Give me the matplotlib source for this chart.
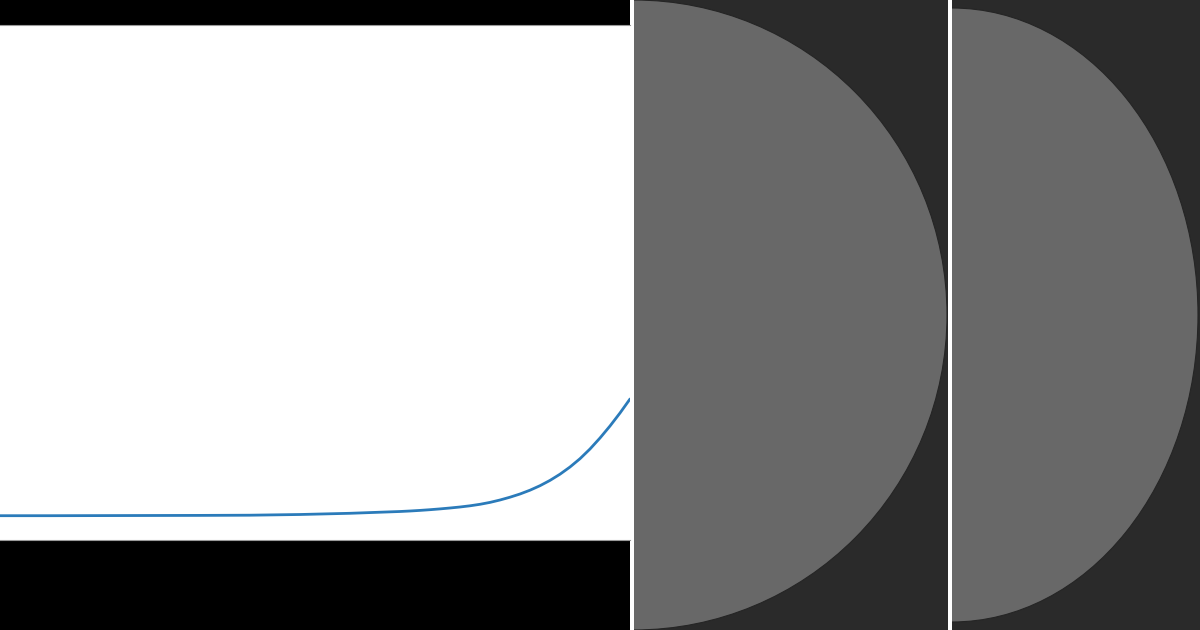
import matplotlib
matplotlib.use("Agg")
import matplotlib.pyplot as plt
from matplotlib.patches import Ellipse

# Curve (x position, value)
curve_x = [0, 50, 100, 150, 200, 250, 300, 350, 400, 410, 420, 430, 440,
           450, 460, 470, 480, 490, 500, 510, 520, 530, 540, 550, 560, 570,
           580, 590, 600, 610, 620, 630]
curve_y = [24.3, 24.3, 24.4, 24.5, 24.6, 24.8, 25.5, 26.7, 28.5, 29.0, 29.6,
           30.3, 31.1, 32.0, 33.0, 34.2, 35.7, 37.6, 40.0, 42.8, 46.0, 49.8,
           54.3, 59.6, 65.8, 73.0, 81.3, 91.0, 102.0, 114.0, 127.0, 141.0]

# Discs in the two right panels: (centre x, centre y, half width, half height)
disc_mid = [0, 315, 313, 315]
disc_right = [0, 315, 246, 307]

W, H = 1200, 630
fig = plt.figure(figsize=(12, 6.3), dpi=100, facecolor="white")

# left panel: black background with white plot area
bg = fig.add_axes([0, 0, 630 / W, 1])
bg.set_facecolor("black")
bg.set_xticks([]); bg.set_yticks([])
for s in bg.spines.values():
    s.set_visible(False)

ax = fig.add_axes([0, 90 / H, 630 / W, 515 / H])
ax.set_facecolor("white")
ax.plot(curve_x, curve_y, color="#2b7bba", lw=2.0, solid_capstyle="round",
        solid_joinstyle="round")
ax.set_xlim(0, 630)
ax.set_ylim(0, 515)
ax.set_xticks([]); ax.set_yticks([])
for s in ax.spines.values():
    s.set_color("#9a9a9a")
    s.set_linewidth(0.8)
ax.spines["left"].set_visible(False)
ax.spines["right"].set_visible(False)

def disc_panel(x0, width, disc):
    a = fig.add_axes([x0 / W, 0, width / W, 1])
    a.set_facecolor("#2a2a2a")
    a.set_xlim(0, width)
    a.set_ylim(0, H)
    a.set_xticks([]); a.set_yticks([])
    for s in a.spines.values():
        s.set_visible(False)
    cx, cy, rx, ry = disc
    a.add_patch(Ellipse((cx, cy), 2 * rx, 2 * ry, facecolor="#686868",
                        edgecolor="#252525", lw=0.8))
    return a

disc_panel(634, 314, disc_mid)
disc_panel(952, 248, disc_right)

fig.savefig("out.png", dpi=100, facecolor="white")
